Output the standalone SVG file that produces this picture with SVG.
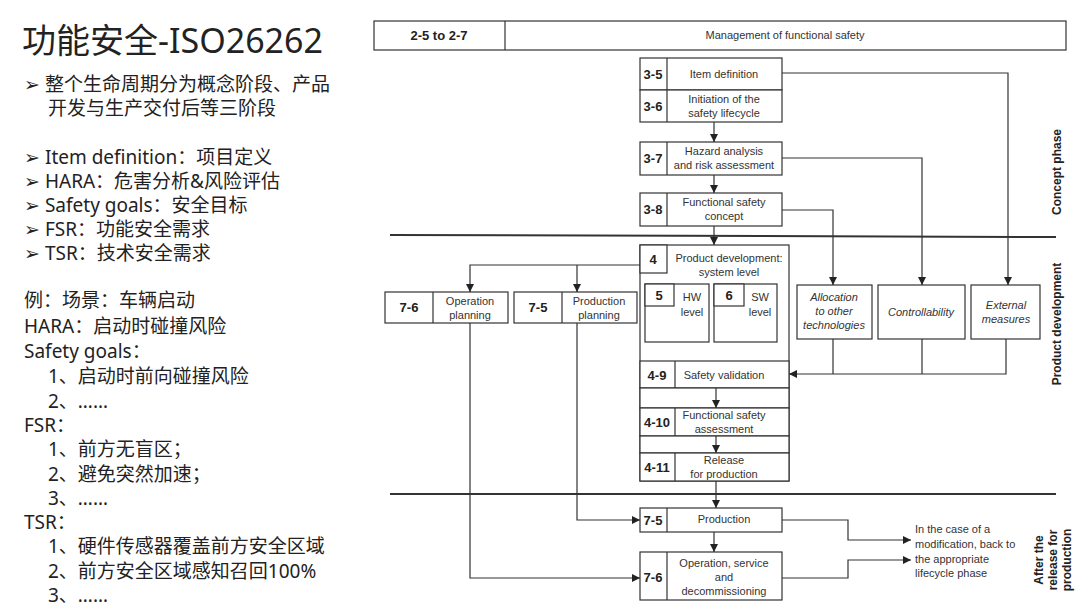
<svg xmlns="http://www.w3.org/2000/svg" width="1080" height="608" viewBox="0 0 1080 608">
<defs>
<marker id="ah" viewBox="0 0 10 10" refX="10" refY="5" markerWidth="7" markerHeight="7" orient="auto"><path d="M0,0 L10,5 L0,10 z" fill="#222"/></marker>
<style>
.b{fill:#fff;stroke:#333;stroke-width:1.2}
.c{fill:none;stroke:#333;stroke-width:1.2}
.n{font-family:"Liberation Sans",Arial,sans-serif;font-size:13px;font-weight:bold;fill:#222;text-anchor:middle}
.t{font-family:"Liberation Sans Narrow","Liberation Sans",Arial,sans-serif;font-size:11px;fill:#333;text-anchor:middle}
.i{font-style:italic}
.side{font-family:"Liberation Sans",Arial,sans-serif;font-size:12px;font-weight:bold;fill:#222;text-anchor:middle}
.L{font-family:"Noto Sans","Noto Sans CJK SC",sans-serif;font-size:19px;fill:#222}
.ph{stroke:#333;stroke-width:2}
</style>
</defs>
<rect width="1080" height="608" fill="#fff"/>
<g id="leftText">
<text x="22" y="53" class="L" style="font-size:34px">功能安全-ISO26262</text>
<text x="24" y="91" class="L">➢ 整个生命周期分为概念阶段、产品</text>
<text x="48" y="115" class="L">开发与生产交付后等三阶段</text>
<text x="24" y="164" class="L">➢ Item definition：项目定义</text>
<text x="24" y="188" class="L">➢ HARA：危害分析&amp;风险评估</text>
<text x="24" y="212" class="L">➢ Safety goals：安全目标</text>
<text x="24" y="236" class="L">➢ FSR：功能安全需求</text>
<text x="24" y="260" class="L">➢ TSR：技术安全需求</text>
<text x="24" y="307" class="L">例：场景：车辆启动</text>
<text x="24" y="333" class="L">HARA：启动时碰撞风险</text>
<text x="24" y="358" class="L">Safety goals：</text>
<text x="48" y="383" class="L">1、启动时前向碰撞风险</text>
<text x="48" y="408" class="L">2、……</text>
<text x="24" y="432" class="L">FSR：</text>
<text x="48" y="456" class="L">1、前方无盲区；</text>
<text x="48" y="481" class="L">2、避免突然加速；</text>
<text x="48" y="505" class="L">3、……</text>
<text x="24" y="529" class="L">TSR：</text>
<text x="48" y="553" class="L">1、硬件传感器覆盖前方安全区域</text>
<text x="48" y="578" class="L">2、前方安全区域感知召回100%</text>
<text x="48" y="602" class="L">3、……</text>
</g>
<g id="phases">
<line x1="390" y1="235" x2="1056" y2="237" class="ph"/>
<line x1="390" y1="494" x2="1056" y2="494" class="ph"/>
<text transform="translate(1061,172) rotate(-90)" class="side">Concept phase</text>
<text transform="translate(1061,324) rotate(-90)" class="side">Product development</text>
<text transform="translate(1043,560) rotate(-90)" class="side">After the</text>
<text transform="translate(1057,560) rotate(-90)" class="side">release for</text>
<text transform="translate(1071,560) rotate(-90)" class="side">production</text>
</g>
<g id="mgmt"><rect x="374" y="21" width="692" height="29" class="b"/><line x1="505" y1="21" x2="505" y2="50" class="c"/><text x="439" y="40" class="n">2-5 to 2-7</text><text x="785" y="39" class="t">Management of functional safety</text></g>
<g id="n35"><rect x="640" y="58" width="142" height="32" class="b"/><line x1="667" y1="58" x2="667" y2="90" class="c"/><text x="653" y="79" class="n">3-5</text><text x="724" y="78" class="t">Item definition</text></g>
<g id="n36"><rect x="640" y="90" width="142" height="32" class="b"/><line x1="667" y1="90" x2="667" y2="122" class="c"/><text x="653" y="111" class="n">3-6</text><text x="724" y="103" class="t">Initiation of the</text><text x="724" y="117" class="t">safety lifecycle</text></g>
<g id="n37"><rect x="640" y="142" width="142" height="33" class="b"/><line x1="667" y1="142" x2="667" y2="175" class="c"/><text x="653" y="163" class="n">3-7</text><text x="724" y="155" class="t">Hazard analysis</text><text x="724" y="169" class="t">and risk assessment</text></g>
<g id="n38"><rect x="640" y="193" width="142" height="33" class="b"/><line x1="667" y1="193" x2="667" y2="226" class="c"/><text x="653" y="214" class="n">3-8</text><text x="724" y="206" class="t">Functional safety</text><text x="724" y="220" class="t">concept</text></g>
<g id="n4"><rect x="640" y="245" width="149" height="236" class="b"/><rect x="640" y="245" width="27" height="28" class="b"/><text x="653" y="264" class="n">4</text><text x="729" y="262" class="t">Product development:</text><text x="729" y="276" class="t">system level</text>
<rect x="645" y="284" width="64" height="58" class="b"/><rect x="645" y="284" width="29" height="22" class="b"/><text x="659" y="300" class="n">5</text><text x="692" y="301" class="t">HW</text><text x="692" y="316" class="t">level</text>
<rect x="714" y="284" width="63" height="58" class="b"/><rect x="714" y="284" width="30" height="22" class="b"/><text x="729" y="300" class="n">6</text><text x="760" y="301" class="t">SW</text><text x="760" y="316" class="t">level</text></g>
<g id="n49"><rect x="640" y="361" width="149" height="27" class="b"/><line x1="675" y1="361" x2="675" y2="388" class="c"/><text x="657" y="380" class="n">4-9</text><text x="724" y="379" class="t">Safety validation</text></g>
<g id="n410"><rect x="640" y="388" width="149" height="20" class="b"/><rect x="640" y="408" width="149" height="28" class="b"/><line x1="675" y1="408" x2="675" y2="436" class="c"/><text x="657" y="427" class="n">4-10</text><text x="724" y="419" class="t">Functional safety</text><text x="724" y="433" class="t">assessment</text></g>
<g id="n411"><rect x="640" y="436" width="149" height="17" class="b"/><rect x="640" y="453" width="149" height="28" class="b"/><line x1="675" y1="453" x2="675" y2="481" class="c"/><text x="657" y="472" class="n">4-11</text><text x="724" y="464" class="t">Release</text><text x="724" y="478" class="t">for production</text></g>
<g id="n76p"><rect x="385" y="292" width="123" height="31" class="b"/><line x1="433" y1="292" x2="433" y2="323" class="c"/><text x="409" y="312" class="n">7-6</text><text x="470" y="305" class="t">Operation</text><text x="470" y="319" class="t">planning</text></g>
<g id="n75p"><rect x="514" y="292" width="123" height="31" class="b"/><line x1="562" y1="292" x2="562" y2="323" class="c"/><text x="538" y="312" class="n">7-5</text><text x="599" y="305" class="t">Production</text><text x="599" y="319" class="t">planning</text></g>
<g id="alloc"><rect x="797" y="285" width="75" height="54" class="b"/><text x="834" y="301" class="t i">Allocation</text><text x="834" y="315" class="t i">to other</text><text x="834" y="329" class="t i">technologies</text></g>
<g id="ctrl"><rect x="878" y="285" width="87" height="54" class="b"/><text x="921" y="316" class="t i">Controllability</text></g>
<g id="ext"><rect x="971" y="285" width="69" height="54" class="b"/><text x="1006" y="309" class="t i">External</text><text x="1006" y="323" class="t i">measures</text></g>
<g id="n75"><rect x="640" y="508" width="142" height="24" class="b"/><line x1="667" y1="508" x2="667" y2="532" class="c"/><text x="653" y="525" class="n">7-5</text><text x="724" y="523" class="t">Production</text></g>
<g id="n76"><rect x="640" y="552" width="142" height="48" class="b"/><line x1="667" y1="552" x2="667" y2="600" class="c"/><text x="653" y="582" class="n">7-6</text><text x="724" y="567" class="t">Operation, service</text><text x="724" y="581" class="t">and</text><text x="724" y="595" class="t">decommissioning</text></g>
<g id="note"><text x="915" y="533" class="t" style="text-anchor:start">In the case of a</text><text x="915" y="548" class="t" style="text-anchor:start">modification, back to</text><text x="915" y="563" class="t" style="text-anchor:start">the appropriate</text><text x="915" y="577" class="t" style="text-anchor:start">lifecycle phase</text></g>
<g id="connectors" class="c">
<path d="M714,122 V142" marker-end="url(#ah)"/>
<path d="M714,175 V193" marker-end="url(#ah)"/>
<path d="M714,226 V245" marker-end="url(#ah)"/>
<path d="M782,73 H1008 V285" marker-end="url(#ah)"/>
<path d="M782,158 H922 V285" marker-end="url(#ah)"/>
<path d="M782,210 H833 V285" marker-end="url(#ah)"/>
<path d="M833,339 V374 M922,339 V374 M1006,339 V374 H789" marker-end="url(#ah)"/>
<path d="M640,265 H470 V292" marker-end="url(#ah)"/>
<path d="M577,265 V292" marker-end="url(#ah)"/>
<path d="M716,388 V408" marker-end="url(#ah)"/>
<path d="M716,436 V453" marker-end="url(#ah)"/>
<path d="M716,481 V508" marker-end="url(#ah)"/>
<path d="M714,532 V552" marker-end="url(#ah)"/>
<path d="M577,323 V520 H640" marker-end="url(#ah)"/>
<path d="M470,323 V578 H640" marker-end="url(#ah)"/>
<path d="M782,520 H848 V540 H911" marker-end="url(#ah)"/>
<path d="M782,578 H848 V560 H911" marker-end="url(#ah)"/>
</g>
</svg>
